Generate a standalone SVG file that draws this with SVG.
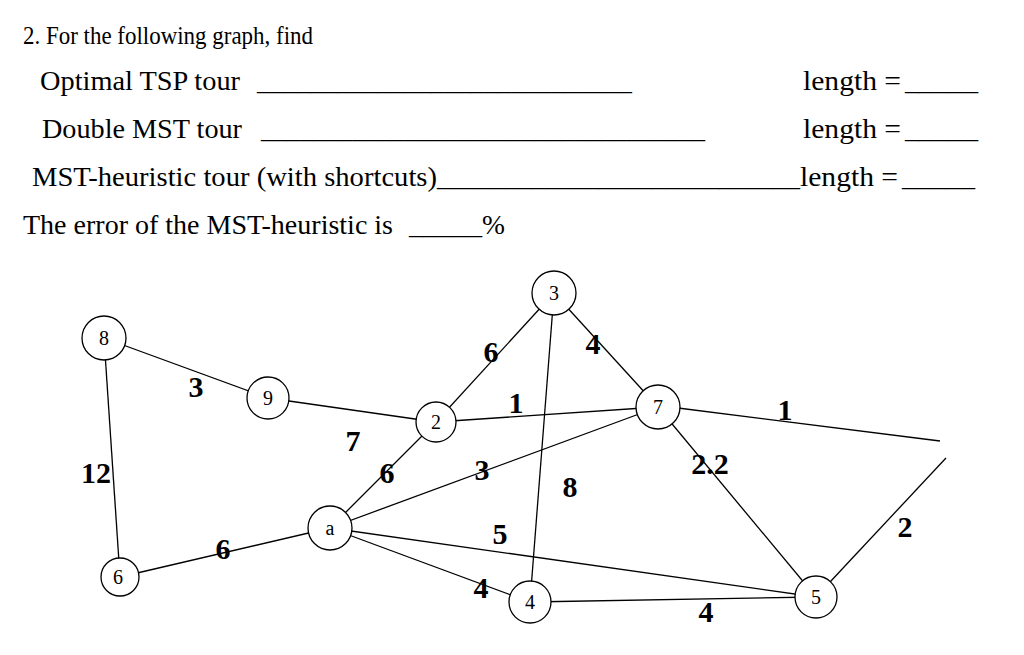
<svg xmlns="http://www.w3.org/2000/svg" width="1024" height="655" viewBox="0 0 1024 655">
<style>
.t{font-family:"Liberation Serif",serif;font-size:27.5px;fill:#000}
.h{font-family:"Liberation Serif",serif;font-size:25px;fill:#000}
.n circle{fill:#fff;stroke:#000;stroke-width:1.3}
.n text{font-family:"Liberation Serif",serif;font-size:20px;text-anchor:middle;fill:#000}
.e line{stroke:#000;stroke-width:1.3}
.w{font-family:"Liberation Serif",serif;font-size:30px;font-weight:bold;fill:#000;text-anchor:middle}
</style>
<rect width="1024" height="655" fill="#fff"/>
<text class="h" x="23" y="44" textLength="290" lengthAdjust="spacingAndGlyphs">2. For the following graph, find</text>
<text class="t" x="40" y="90" textLength="200" lengthAdjust="spacingAndGlyphs">Optimal TSP tour</text>
<text class="t" x="257" y="90" textLength="375" lengthAdjust="spacingAndGlyphs">____________________________</text>
<text class="t" x="803" y="90" textLength="98" lengthAdjust="spacingAndGlyphs">length =</text>
<text class="t" x="905" y="90" textLength="73" lengthAdjust="spacingAndGlyphs">_____</text>
<text class="t" x="42" y="138" textLength="200" lengthAdjust="spacingAndGlyphs">Double MST tour</text>
<text class="t" x="261" y="138" textLength="444" lengthAdjust="spacingAndGlyphs">__________________________________</text>
<text class="t" x="803" y="138" textLength="98" lengthAdjust="spacingAndGlyphs">length =</text>
<text class="t" x="905" y="138" textLength="73" lengthAdjust="spacingAndGlyphs">_____</text>
<text class="t" x="32" y="186" textLength="405" lengthAdjust="spacingAndGlyphs">MST-heuristic tour (with shortcuts)</text>
<text class="t" x="437" y="186" textLength="363" lengthAdjust="spacingAndGlyphs">___________________________</text>
<text class="t" x="800" y="186" textLength="98" lengthAdjust="spacingAndGlyphs">length =</text>
<text class="t" x="902" y="186" textLength="73" lengthAdjust="spacingAndGlyphs">_____</text>
<text class="t" x="23" y="234" textLength="370" lengthAdjust="spacingAndGlyphs">The error of the MST-heuristic is</text>
<text class="t" x="409" y="234" textLength="73" lengthAdjust="spacingAndGlyphs">_____</text>
<text class="t" x="482" y="234">%</text>
<g class="e" id="edges">
<line x1="104" y1="338" x2="268" y2="398"/>
<line x1="268" y1="398" x2="436" y2="422"/>
<line x1="104" y1="338" x2="120" y2="577"/>
<line x1="120" y1="577" x2="330" y2="528"/>
<line x1="330" y1="528" x2="436" y2="422"/>
<line x1="436" y1="422" x2="554" y2="293"/>
<line x1="436" y1="422" x2="658" y2="407"/>
<line x1="554" y1="293" x2="658" y2="407"/>
<line x1="554" y1="293" x2="530" y2="602"/>
<line x1="330" y1="528" x2="658" y2="407"/>
<line x1="330" y1="528" x2="816" y2="597"/>
<line x1="330" y1="528" x2="530" y2="602"/>
<line x1="530" y1="602" x2="816" y2="597"/>
<line x1="658" y1="407" x2="816" y2="597"/>
<line x1="678" y1="408" x2="940" y2="441"/>
<line x1="830" y1="582" x2="946" y2="458"/>
</g>
<g class="n" id="n8"><circle cx="104" cy="338" r="22"/><text x="104" y="345">8</text></g>
<g class="n" id="n9"><circle cx="268" cy="398" r="21"/><text x="268" y="405">9</text></g>
<g class="n" id="n2"><circle cx="436" cy="422" r="20"/><text x="436" y="429">2</text></g>
<g class="n" id="na"><circle cx="330" cy="528" r="22"/><text x="330" y="535">a</text></g>
<g class="n" id="n6"><circle cx="120" cy="577" r="19"/><text x="118" y="584">6</text></g>
<g class="n" id="n3"><circle cx="554" cy="293" r="22"/><text x="554" y="300">3</text></g>
<g class="n" id="n7"><circle cx="658" cy="407" r="22"/><text x="658" y="414">7</text></g>
<g class="n" id="n5"><circle cx="816" cy="597" r="21"/><text x="816" y="604">5</text></g>
<g class="n" id="n4"><circle cx="530" cy="602" r="21"/><text x="530" y="609">4</text></g>
<g id="weights">
<text class="w" x="196" y="397">3</text>
<text class="w" x="353" y="451">7</text>
<text class="w" x="96" y="483">12</text>
<text class="w" x="223" y="559">6</text>
<text class="w" x="387" y="483">6</text>
<text class="w" x="491" y="362">6</text>
<text class="w" x="593" y="354">4</text>
<text class="w" x="516" y="413">1</text>
<text class="w" x="482" y="480">3</text>
<text class="w" x="570" y="497">8</text>
<text class="w" x="710" y="474">2.2</text>
<text class="w" x="785" y="420">1</text>
<text class="w" x="500" y="544">5</text>
<text class="w" x="481" y="598">4</text>
<text class="w" x="706" y="622">4</text>
<text class="w" x="905" y="537">2</text>
</g>
</svg>
